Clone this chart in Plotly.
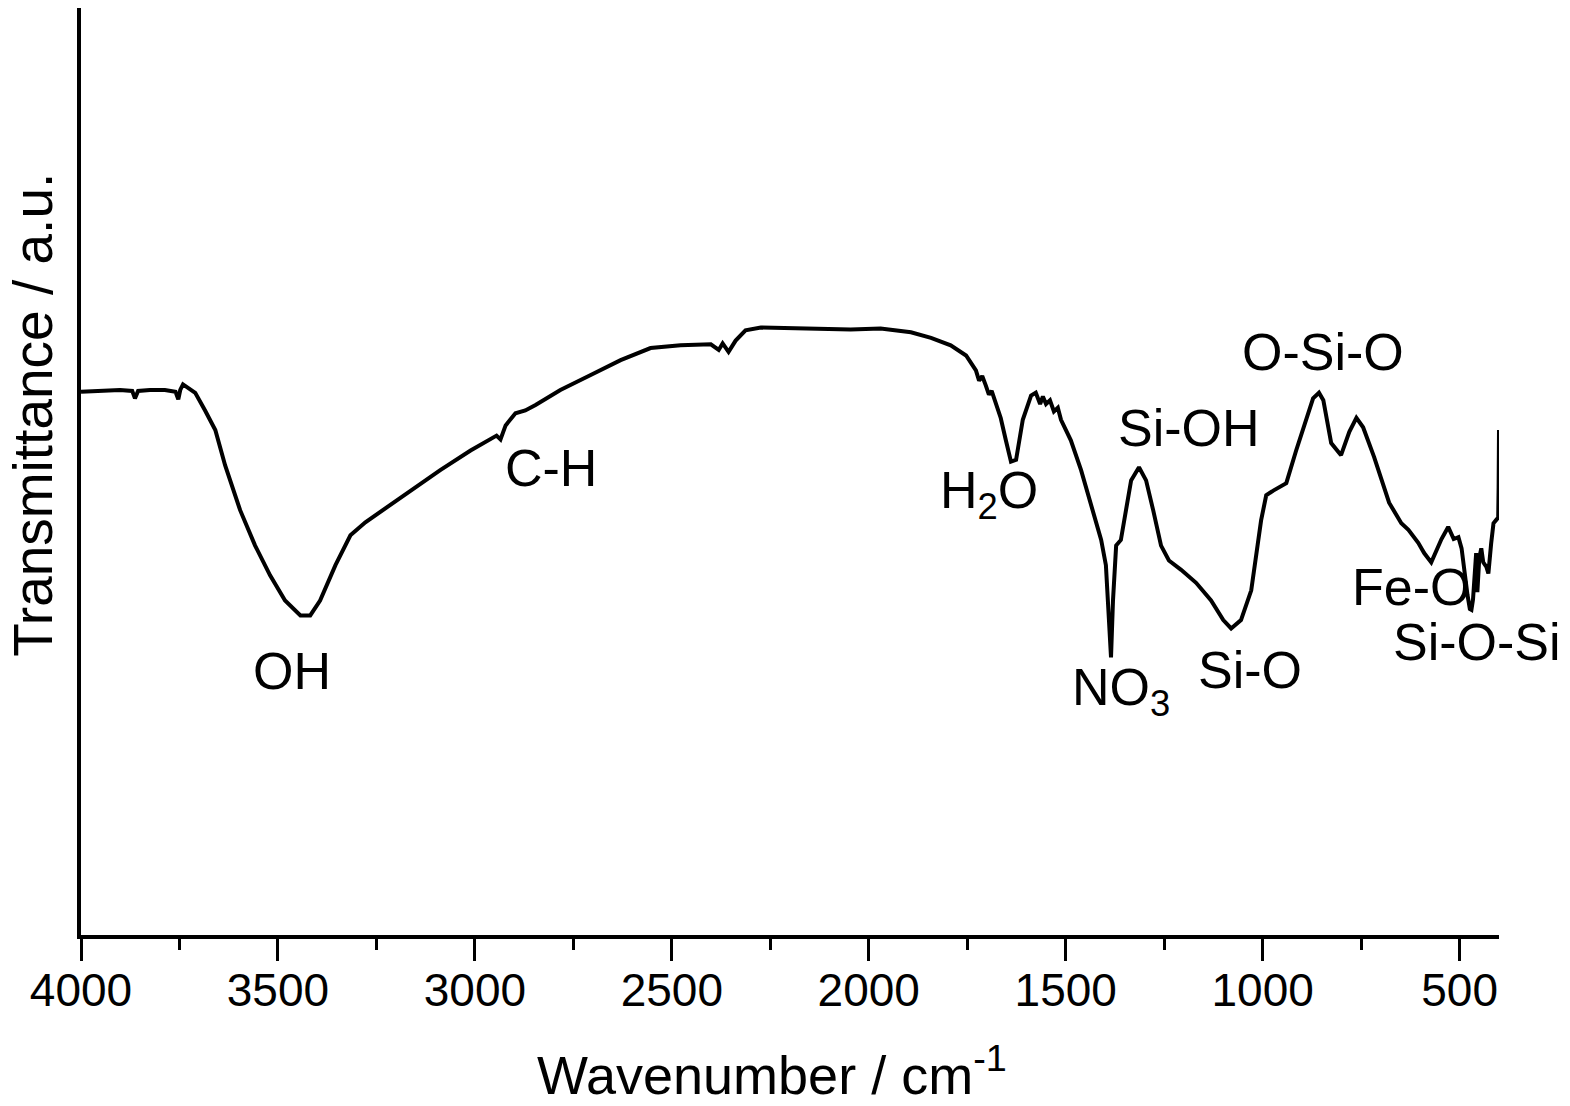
import plotly.graph_objects as go

# FTIR spectrum (wavenumber in cm-1, transmittance in a.u.)
wavenumber = [4000, 3952, 3901, 3870, 3863, 3855, 3825, 3787, 3760, 3753, 3748, 3741,
              3710, 3685, 3659, 3634, 3596, 3558, 3520, 3482, 3443, 3418, 3393, 3354,
              3316, 3278, 3227, 3164, 3088, 3011, 2961, 2945, 2935, 2922, 2897, 2872,
              2846, 2783, 2706, 2630, 2554, 2478, 2401, 2381, 2371, 2356, 2338, 2313,
              2274, 2173, 2046, 1970, 1893, 1842, 1792, 1753, 1728, 1720, 1712, 1703,
              1695, 1688, 1677, 1665, 1652, 1639, 1626, 1609, 1588, 1576, 1565, 1558,
              1550, 1540, 1530, 1520, 1512, 1487, 1461, 1436, 1410, 1398, 1390, 1385,
              1380, 1372, 1360, 1347, 1334, 1314, 1296, 1278, 1258, 1238, 1207, 1169,
              1131, 1100, 1080, 1055, 1029, 1004, 991, 973, 940, 915, 890, 872, 857,
              846, 826, 801, 780, 762, 745, 717, 679, 648, 630, 605, 590, 572, 546,
              529, 515, 503, 495, 488, 480, 474, 470, 466, 462, 458, 455, 450, 445,
              440, 432, 427, 420, 414, 408, 402, 401, 400]
transmittance = [58.3, 58.4, 58.5, 58.4, 57.6, 58.4, 58.5, 58.5, 58.3, 57.5, 58.5, 59.1,
                 58.2, 56.3, 54.2, 50.4, 45.6, 41.8, 38.6, 35.9, 34.3, 34.3, 35.9, 39.7,
                 42.9, 44.3, 45.8, 47.7, 49.9, 52.0, 53.3, 53.6, 53.2, 54.7, 56.0, 56.3,
                 56.9, 58.5, 60.1, 61.7, 63.0, 63.3, 63.4, 62.8, 63.5, 62.6, 63.8, 64.9,
                 65.2, 65.1, 65.0, 65.1, 64.7, 64.1, 63.3, 62.2, 60.6, 59.5, 60.0, 59.0,
                 58.0, 58.4, 56.9, 55.5, 53.1, 50.8, 51.0, 55.3, 57.9, 58.2, 57.0, 57.8,
                 57.0, 57.4, 56.2, 56.6, 55.3, 53.1, 49.9, 46.1, 42.4, 39.7, 33.8, 29.8,
                 35.9, 41.8, 42.4, 45.6, 48.8, 50.2, 48.8, 45.6, 41.8, 40.2, 39.2, 37.8,
                 35.9, 33.8, 32.9, 33.8, 37.0, 44.5, 47.2, 47.7, 48.5, 52.0, 55.3, 57.6, 58.2,
                 57.4, 52.8, 51.5, 54.0, 55.5, 54.5, 51.3, 46.4, 44.2, 43.5, 42.1, 41.0, 40.0, 42.5,
                 43.8, 42.5, 42.7, 41.5, 39.0, 36.5, 35.0, 34.9, 36.0, 38.5, 41.0, 36.8, 40.5, 41.5,
                 40.0, 39.5, 38.8, 42.0, 44.2, 44.5, 44.8, 48.0, 54.2]

# Band labels
label_text = ["OH", "C-H", "H<sub>2</sub>O", "NO<sub>3</sub>", "Si-OH", "Si-O",
              "O-Si-O", "Fe-O", "Si-O-Si"]
label_wn = [3464, 2808, 1695, 1360, 1187, 1032, 846, 623, 455]
label_T = [28.3, 50.1, 47.3, 26.2, 54.4, 28.4, 62.6, 37.3, 31.5]

x_ticks = [4000, 3500, 3000, 2500, 2000, 1500, 1000, 500]
x_minor = [3750, 3250, 2750, 2250, 1750, 1250, 750]

FONT = "Liberation Sans, Arial, sans-serif"

fig = go.Figure()
fig.add_trace(go.Scatter(x=wavenumber, y=transmittance, mode="lines",
                         line=dict(color="black", width=4), showlegend=False,
                         hoverinfo="skip"))

for t, xw, yt in zip(label_text, label_wn, label_T):
    fig.add_annotation(x=xw, y=yt, xref="x", yref="y", text=t, showarrow=False,
                       font=dict(family=FONT, size=52, color="black"),
                       xanchor="center", yanchor="middle")

# axis titles as annotations for exact placement
fig.add_annotation(x=-0.034, y=0.561, xref="paper", yref="paper",
                   text="Transmittance / a.u.", textangle=-90, showarrow=False,
                   font=dict(family=FONT, size=55, color="black"),
                   xanchor="center", yanchor="middle")
fig.add_annotation(x=0.487, y=-0.147, xref="paper", yref="paper",
                   text="Wavenumber / cm<sup>-1</sup>", showarrow=False,
                   font=dict(family=FONT, size=54, color="black"),
                   xanchor="center", yanchor="middle")

fig.update_layout(
    width=1554, height=1090,
    margin=dict(l=73, r=63, t=0, b=163),
    paper_bgcolor="white", plot_bgcolor="white",
    font=dict(family=FONT, color="black"),
)
fig.update_xaxes(range=[4000, 400], tickvals=x_ticks,
                 ticktext=[str(v) for v in x_ticks],
                 showline=True, linecolor="black", linewidth=3.5,
                 ticks="outside", ticklen=22, tickwidth=3, tickcolor="black",
                 ticklabelstandoff=-10,
                 minor=dict(tickvals=x_minor, ticks="outside", ticklen=11,
                            tickwidth=3, tickcolor="black"),
                 showgrid=False, zeroline=False,
                 tickfont=dict(family=FONT, size=46, color="black"))
fig.update_yaxes(range=[0, 99.5], showline=True, linecolor="black", linewidth=3.5,
                 showticklabels=False, ticks="", showgrid=False, zeroline=False)

fig.write_html("out.html")
